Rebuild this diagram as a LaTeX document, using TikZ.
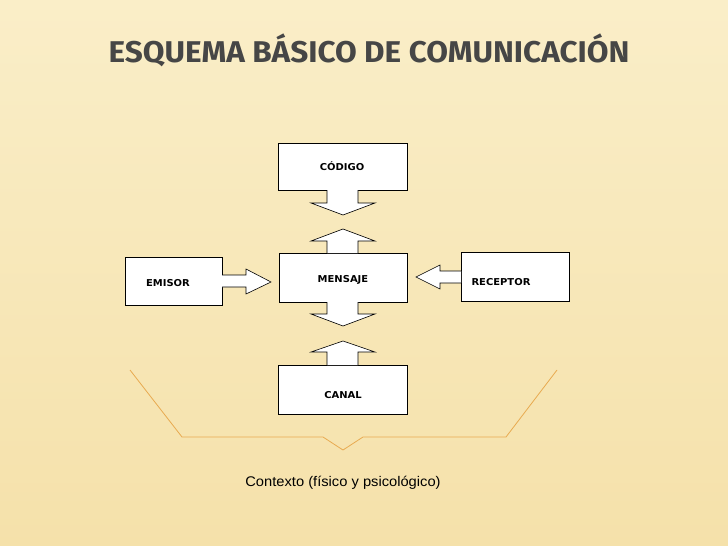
\documentclass[tikz,border=0pt]{standalone}
\usepackage{fontspec}
\setmainfont{Liberation Sans}
\newfontfamily\boxfont{DejaVu Sans}
\newfontfamily\titlefont{Fira Sans}
\begin{document}
\begin{tikzpicture}[x=1pt,y=-1pt,
  boxst/.style={draw=black,fill=white,line width=0.6pt},
  lbl/.style={font=\boxfont\bfseries\fontsize{9.5}{11}\selectfont,xscale=1.05},
  brk/.style={draw={rgb,255:red,232;green,170;blue,80},line width=0.8pt}]
\shade[top color={rgb,255:red,250;green,238;blue,200},bottom color={rgb,255:red,245;green,225;blue,170}] (0,0) rectangle (728,546);
\useasboundingbox (0,0) rectangle (728,546);
\node[font=\titlefont\bfseries\fontsize{30}{34}\selectfont,text={rgb,255:red,70;green,70;blue,70},xscale=1.05] (title) at (369,50) {ESQUEMA BÁSICO DE COMUNICACIÓN};
% boxes
\draw[boxst] (278,143) rectangle (407,190);
\node[lbl] (cod) at (342,166) {CÓDIGO};
\draw[boxst] (279,253) rectangle (407,302);
\node[lbl] (men) at (343,280) {MENSAJE};
\draw[boxst] (278,365) rectangle (407,414);
\node[lbl] (can) at (343,395) {CANAL};
\draw[boxst] (125,257) rectangle (222,305);
\node[lbl] (emi) at (168,283) {EMISOR};
\draw[boxst] (461,252) rectangle (569,301);
\node[lbl] (rec) at (501,282) {RECEPTOR};
% block arrows
\draw[boxst] (327,190)--(327,203)--(311,203)--(343,215)--(375,203)--(358,203)--(358,190);
\draw[boxst] (327,253)--(327,241)--(311,241)--(343,229)--(375,241)--(358,241)--(358,253);
\draw[boxst] (327,302)--(327,314)--(311,314)--(343,326)--(375,314)--(358,314)--(358,302);
\draw[boxst] (327,365)--(327,352)--(311,352)--(343,341)--(375,352)--(358,352)--(358,365);
\draw[boxst] (222,275)--(246,275)--(246,269)--(271,282)--(246,294)--(246,287)--(222,287);
\draw[boxst] (461,271)--(440,271)--(440,265)--(416,277)--(440,289)--(440,283)--(461,283);
% bracket
\draw[brk] (130,370)--(182,437)--(323,437)--(343,450)--(363,437)--(506,437)--(557,370);
\node[font=\fontsize{14}{16}\selectfont,xscale=1.05] (ctx) at (343,483) {Contexto (físico y psicológico)};
\end{tikzpicture}
\end{document}
